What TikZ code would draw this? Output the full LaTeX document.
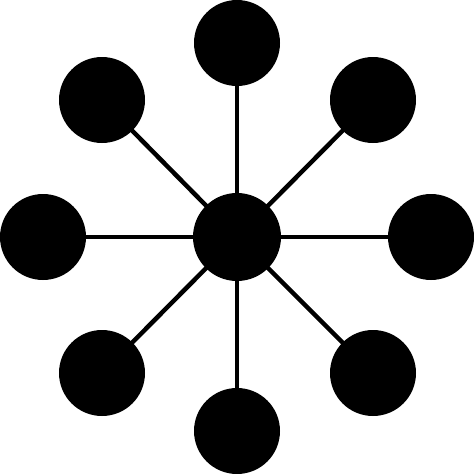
\documentclass[tikz,border=0pt]{standalone}
\begin{document}
\begin{tikzpicture}[x=1pt,y=-1pt,
  dot/.style={circle,fill=black,minimum size=86pt,inner sep=0pt},
  hub/.style={circle,fill=black,minimum size=88pt,inner sep=0pt},
  spoke/.style={line width=4.5pt,black}]
\useasboundingbox (0,0) rectangle (474,474);
\node[hub] (c) at (237,237) {};
\node[dot] (n) at (237,43) {};
\node[dot] (s) at (237,431) {};
\node[dot] (w) at (43,237) {};
\node[dot] (e) at (431,237) {};
\node[dot] (nw) at (102,100) {};
\node[dot] (ne) at (373,100) {};
\node[dot] (sw) at (102,373) {};
\node[dot] (se) at (373,373) {};
\begin{scope}[on background layer/.style={}]
\foreach \t in {n,s,w,e,nw,ne,sw,se}
  \draw[spoke] (c.center) -- (\t.center);
\end{scope}
\end{tikzpicture}
\end{document}
